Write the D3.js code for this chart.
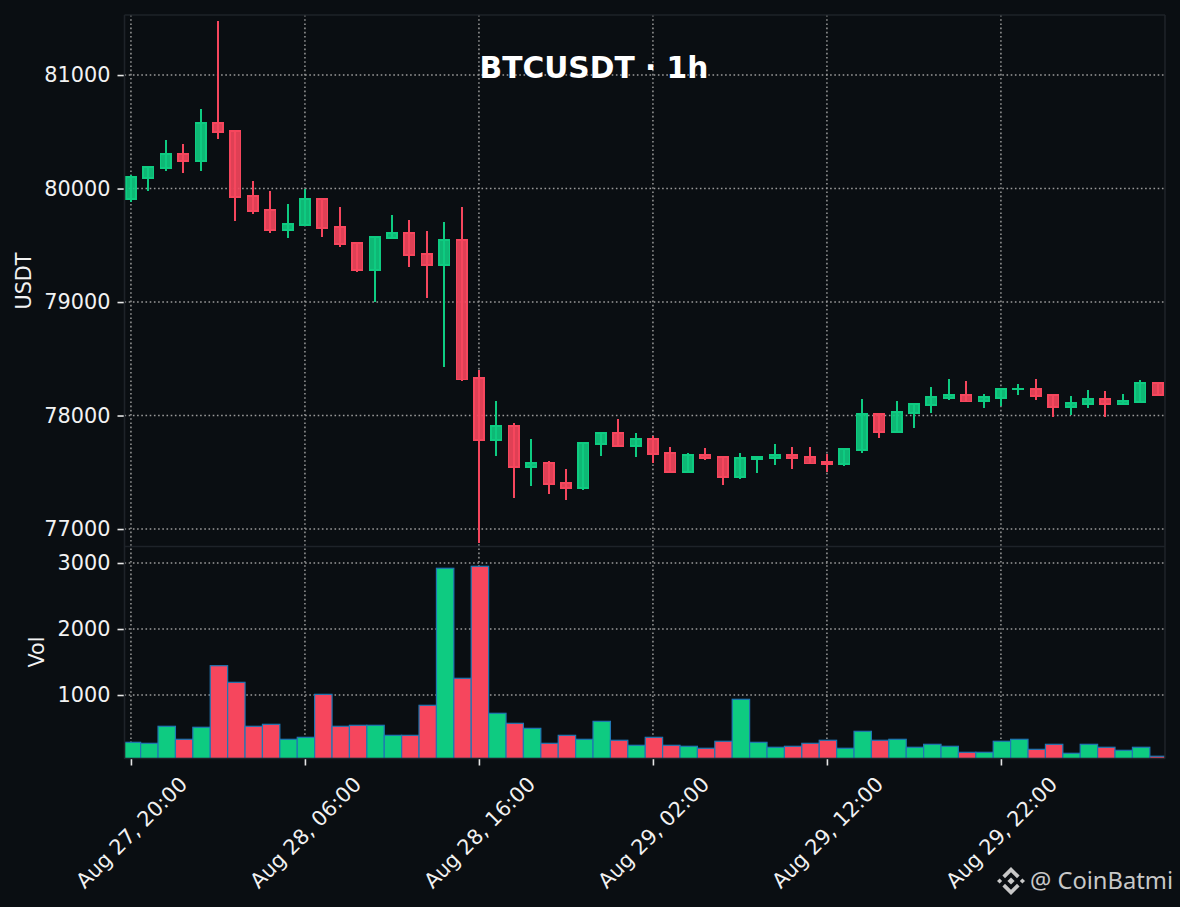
<!DOCTYPE html>
<html>
<head>
<meta charset="utf-8">
<script src="https://cdn.jsdelivr.net/npm/d3@7"></script>
<style>
html, body { margin: 0; padding: 0; background: #0a0e12; overflow: hidden; }
text { font-family: "DejaVu Sans", sans-serif; }
</style>
</head>
<body>
<div id="chart"></div>
<script>
const opens = [79906,80094,80179,80306,80240,80579,80508,79936,79812,79633,
  79677,79909,79663,79522,79280,79562,79610,79425,79324,79548,
  78332,77782,77909,77544,77583,77407,77360,77747,77848,77730,
  77795,77671,77500,77654,77636,77456,77615,77624,77654,77636,
  77592,77571,77695,78015,77853,78022,78091,78153,78183,78126,
  78153,78229,78235,78183,78074,78100,78147,78100,78118,78288];
const closes = [80100,80191,80306,80240,80579,80496,79923,79800,79633,79689,
  79909,79650,79509,79280,79574,79610,79412,79324,79548,78317,
  77782,77909,77544,77583,77395,77360,77760,77848,77730,77795,
  77659,77500,77654,77624,77456,77627,77636,77654,77624,77579,
  77571,77707,78015,77853,78033,78103,78165,78183,78123,78165,
  78235,78235,78170,78074,78112,78147,78100,78130,78288,78179];
const highs = [80123,80191,80429,80394,80702,81480,80508,80062,79974,79868,
  80000,79909,79841,79522,79574,79771,79727,79630,79709,79841,
  78405,78132,77930,77797,77600,77530,77771,77848,77965,77850,
  77824,77727,77674,77718,77636,77674,77636,77753,77727,77727,
  77665,77718,78150,78015,78132,78103,78247,78326,78300,78194,
  78235,78282,78326,78183,78176,78229,78220,78194,78309,78288];
const lows = [79880,79976,80152,80135,80152,80434,79718,79774,79606,79562,
  79677,79571,79483,79263,79000,79551,79307,79033,78425,78300,
  76878,77641,77271,77377,77306,77254,77342,77641,77721,77633,
  77580,77500,77500,77606,77386,77439,77491,77562,77527,77570,
  77500,77559,77668,77806,77853,77894,78018,78141,78115,78062,
  78082,78185,78141,77991,78009,78062,77991,78100,78109,78170];
const volumes = [283,268,526,329,511,1444,1192,526,556,329,
  359,1010,526,541,541,389,389,844,2920,1253,
  2950,723,571,495,268,389,329,601,314,238,
  359,238,223,193,299,935,283,208,223,268,
  314,193,450,314,329,208,253,223,132,132,
  299,329,177,253,117,253,208,162,208,72];

const priceTicks = [77000,78000,79000,80000,81000];
const volTicks = [1000,2000,3000];
const timeTicks = [0,10,20,30,40,50];
const timeLabels = ['Aug 27, 20:00','Aug 28, 06:00','Aug 28, 16:00','Aug 29, 02:00','Aug 29, 12:00','Aug 29, 22:00'];

const width = 1180;
const height = 907;
const pLeft = 124.5, pRight = 1165, pTop = 15, pMid = 546.5, pBottom = 758.5;
const bg = '#0a0e12', upCol = '#0ecb81', downCol = '#f6465d', spineCol = '#1e2329', tickCol = '#e6e6e6';
const labelSize = 20.8;

const svg = d3.select('#chart').append('svg')
  .attr('width', width)
  .attr('height', height)
  .style('display', 'block');

svg.append('rect').attr('width', width).attr('height', height).attr('fill', bg);

svg.append('clipPath').attr('id', 'plotClip').append('rect')
  .attr('x', pLeft).attr('y', pTop).attr('width', pRight - pLeft).attr('height', pBottom - pTop);

const idx = d3.range(opens.length);
const x = d3.scaleLinear().domain([-0.37, 59.43]).range([pLeft, pRight]);
const y = d3.scaleLinear().domain([76846, 81529]).range([pMid, pTop]);
const yVol = d3.scaleLinear().domain([38, 3250]).range([pBottom, pMid]);
const slot = x(1) - x(0);

function gridStyle(g) {
  g.attr('stroke', '#9a9a9a').attr('stroke-width', 1.5).attr('stroke-dasharray', '1.6 2.6').attr('fill', 'none');
}

// grid
const grid = svg.append('g').call(gridStyle);
grid.selectAll('.v').data(timeTicks).join('line').attr('class', 'v')
  .attr('x1', d => x(d)).attr('x2', d => x(d)).attr('y1', pTop).attr('y2', pBottom);
grid.selectAll('.h').data(priceTicks).join('line').attr('class', 'h')
  .attr('x1', pLeft).attr('x2', pRight).attr('y1', d => y(d)).attr('y2', d => y(d));
grid.selectAll('.hv').data(volTicks).join('line').attr('class', 'hv')
  .attr('x1', pLeft).attr('x2', pRight).attr('y1', d => yVol(d)).attr('y2', d => yVol(d));

const colour = i => closes[i] >= opens[i] ? upCol : downCol;

const marks = svg.append('g').attr('clip-path', 'url(#plotClip)');

// candles
marks.append('g').attr('shape-rendering', 'crispEdges').selectAll('line').data(idx).join('line')
  .attr('x1', i => x(i)).attr('x2', i => x(i))
  .attr('y1', i => y(highs[i])).attr('y2', i => y(lows[i]))
  .attr('stroke', colour).attr('stroke-width', 2);

const candleW = 10.4;
marks.append('g').attr('shape-rendering', 'crispEdges').selectAll('rect').data(idx).join('rect')
  .attr('x', i => x(i) - candleW / 2)
  .attr('width', candleW)
  .attr('y', i => y(Math.max(opens[i], closes[i])))
  .attr('height', i => Math.abs(y(opens[i]) - y(closes[i])))
  .attr('fill', colour).attr('fill-opacity', 0.9)
  .attr('stroke', colour).attr('stroke-width', 1.6);

// volume, bars sit about a pixel right of the candles in the original
marks.append('g').attr('transform', 'translate(1,0)').selectAll('rect').data(idx).join('rect')
  .attr('x', i => x(i) - slot / 2)
  .attr('width', slot)
  .attr('y', i => yVol(volumes[i]))
  .attr('height', i => pBottom - yVol(volumes[i]))
  .attr('fill', colour)
  .attr('stroke', '#1f77b4').attr('stroke-width', 1.2);

// axes
function styleAxis(g) {
  g.select('.domain').remove();
  g.selectAll('.tick line').attr('stroke', tickCol).attr('stroke-width', 1.6);
  g.selectAll('.tick text').attr('fill', '#f2f2f2').attr('font-size', labelSize).attr('font-family', '"DejaVu Sans", sans-serif');
}

svg.append('g').attr('transform', `translate(${pLeft},0)`)
  .call(d3.axisLeft(y).tickValues(priceTicks).tickFormat(d3.format('d')).tickSize(7).tickPadding(7))
  .call(styleAxis);

svg.append('g').attr('transform', `translate(${pLeft},0)`)
  .call(d3.axisLeft(yVol).tickValues(volTicks).tickFormat(d3.format('d')).tickSize(7).tickPadding(7))
  .call(styleAxis);

svg.append('g').attr('transform', `translate(0,${pBottom})`)
  .call(d3.axisBottom(x).tickValues(timeTicks).tickFormat((d, i) => timeLabels[i]).tickSize(7))
  .call(styleAxis)
  .selectAll('.tick text')
  .attr('y', 0).attr('dy', '0.35em')
  .attr('text-anchor', 'middle')
  .attr('transform', 'translate(0,74) rotate(-45)');

// spines
svg.append('g').attr('stroke', spineCol).attr('stroke-width', 1.6).selectAll('line')
  .data([[pLeft, pTop, pRight, pTop], [pLeft, pMid, pRight, pMid], [pLeft, pBottom, pRight, pBottom], [pLeft, pTop, pLeft, pBottom], [pRight, pTop, pRight, pBottom]])
  .join('line')
  .attr('x1', d => d[0]).attr('y1', d => d[1]).attr('x2', d => d[2]).attr('y2', d => d[3]);

// labels
svg.append('text').attr('x', 594).attr('y', 78).attr('text-anchor', 'middle')
  .attr('fill', '#ffffff').attr('font-size', 29.7).attr('font-weight', 'bold').text('BTCUSDT · 1h');

svg.append('text').attr('transform', 'translate(31,281) rotate(-90)').attr('text-anchor', 'middle')
  .attr('fill', '#f2f2f2').attr('font-size', labelSize).text('USDT');
svg.append('text').attr('transform', 'translate(44,652) rotate(-90)').attr('text-anchor', 'middle')
  .attr('fill', '#f2f2f2').attr('font-size', labelSize).text('Vol');

// watermark
const mark = svg.append('g').attr('transform', 'translate(1011,881)').attr('fill', '#c8c8c8');
mark.append('path').attr('d', 'M0,-3.6L3.6,0L0,3.6L-3.6,0Z');
mark.append('path').attr('d', 'M-14,0L-11.4,-2.6L-8.8,0L-11.4,2.6Z');
mark.append('path').attr('d', 'M14,0L11.4,-2.6L8.8,0L11.4,2.6Z');
mark.append('path').attr('d', 'M0,-14L8.6,-5.4L6,-2.8L0,-8.8L-6,-2.8L-8.6,-5.4Z');
mark.append('path').attr('d', 'M0,14L8.6,5.4L6,2.8L0,8.8L-6,2.8L-8.6,5.4Z');
svg.append('text').attr('x', 1030).attr('y', 889).attr('fill', '#c8c8c8')
  .attr('font-size', 23.7).style('font-family', '"Noto Sans", sans-serif').text('@ CoinBatmi');
</script>
</body>
</html>
